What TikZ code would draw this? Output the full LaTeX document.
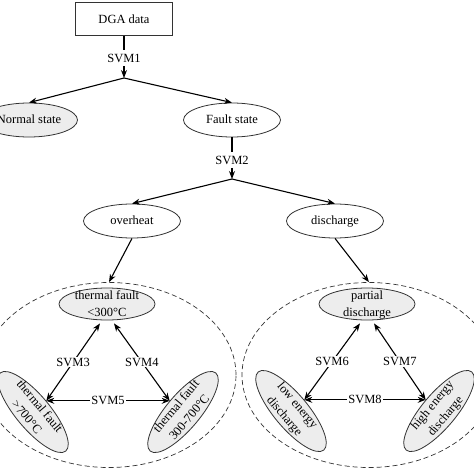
\documentclass[tikz,border=0pt]{standalone}
\usepackage{fontspec}
\setmainfont{Liberation Serif}
\usetikzlibrary{shapes.geometric,arrows.meta}
\newcommand{\zb}[1]{\makebox[0pt]{\raisebox{-0.25em}[0pt][0pt]{\begin{tabular}{@{}c@{}}#1\end{tabular}}}}
\begin{document}
\begin{tikzpicture}[x=1pt,y=-1pt,
  font=\fontsize{12.5}{17}\selectfont,
  box/.style={draw=black!80, line width=0.8pt, fill=white, minimum width=97pt, minimum height=33pt, inner sep=0pt},
  st/.style={ellipse, draw=black!80, line width=0.8pt, fill=white, minimum width=97pt, minimum height=34pt, inner sep=0pt},
  gst/.style={st, fill=black!7},
  sub/.style={ellipse, draw=black!80, line width=0.8pt, fill=black!7, minimum width=96pt, minimum height=32pt, inner sep=0pt},
  rsub/.style={sub, minimum width=102pt, minimum height=34pt},
  grp/.style={ellipse, draw=black!80, dash pattern=on 5pt off 3pt, line width=0.7pt, minimum width=254pt, minimum height=185pt},
  lbl/.style={inner sep=1pt, fill=white},
  plain/.style={line width=1.1pt},
  arr/.style={-{Stealth[length=8pt,width=6pt]}, line width=1.1pt},
  darr/.style={{Stealth[length=8pt,width=6pt]}-{Stealth[length=8pt,width=6pt]}, line width=1.1pt}]
\useasboundingbox (0,0) rectangle (474,474);
\node[grp] (grpL) at (109,375) {};
\node[grp] (grpR) at (369,375) {};
\node[box] (dga) at (124,19) {DGA data};
\node (svm1) at (124,58) {SVM1};
\coordinate (j1) at (124,78);
\node[gst] (normal) at (29,120) {\zb{Normal state}};
\node[st] (fault) at (232,120) {\zb{Fault state}};
\node (svm2) at (232,160) {SVM2};
\coordinate (j2) at (232,179);
\node[st] (overheat) at (132,221) {\zb{overheat}};
\node[st] (discharge) at (335,221) {\zb{discharge}};
\node[sub] (t300) at (107,304) {\zb{thermal fault\\<300°C}};
\node[rsub, rotate=-50] (t700) at (33,412) {\zb{thermal fault\\>700°C}};
\node[rsub, rotate=50] (t3070) at (183,412) {\zb{thermal fault\\300-700°C}};
\node[sub] (pd) at (367,304) {\zb{partial\\discharge}};
\node[rsub, rotate=-50] (led) at (291,411) {\zb{low energy\\discharge}};
\node[rsub, rotate=50] (hed) at (439,411) {\zb{high energy\\discharge}};
\draw[plain] (dga) -- (svm1);
\draw[arr] (svm1) -- (j1);
\draw[arr] (j1) -- (normal.north);
\draw[arr] (j1) -- (fault.north);
\draw[plain] (fault) -- (svm2);
\draw[arr] (svm2) -- (j2);
\draw[arr] (j2) -- (overheat.north);
\draw[arr] (j2) -- (discharge.north);
\draw[arr] (overheat.south) -- (grpL.north);
\draw[arr] (discharge.south) -- (grpR.north);
\draw[darr] ([xshift=-7pt,yshift=-3pt]t300.south) -- node[lbl]{SVM3} (t700.north);
\draw[darr] ([xshift=7pt,yshift=-3pt]t300.south) -- node[lbl]{SVM4} (t3070.north);
\draw[darr] (t700.north) -- node[lbl]{SVM5} (t3070.north);
\draw[darr] ([xshift=-7pt,yshift=-3pt]pd.south) -- node[lbl]{SVM6} (led.north);
\draw[darr] ([xshift=7pt,yshift=-3pt]pd.south) -- node[lbl]{SVM7} (hed.north);
\draw[darr] (led.north) -- node[lbl]{SVM8} (hed.north);
\end{tikzpicture}
\end{document}
